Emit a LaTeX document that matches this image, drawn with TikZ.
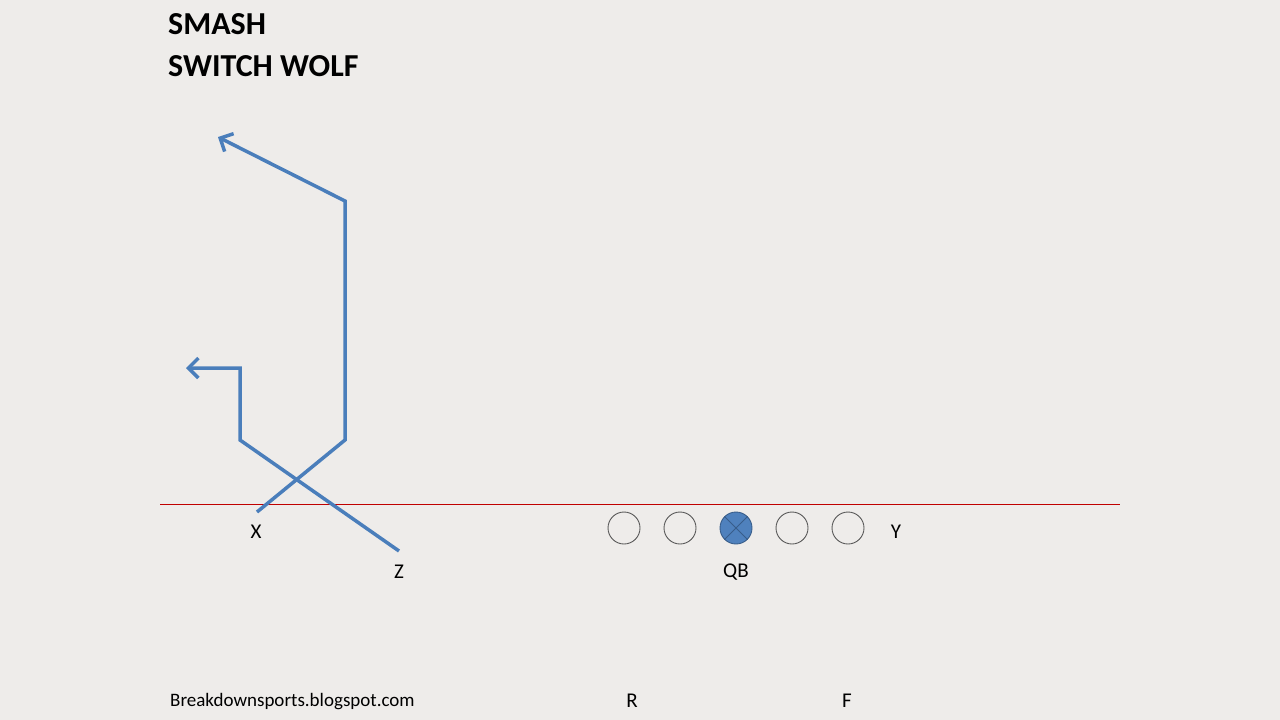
\documentclass[tikz,border=0pt]{standalone}
\usepackage{fontspec}
\setmainfont{Carlito}
\usetikzlibrary{arrows.meta}
\definecolor{bg}{RGB}{238,236,234}
\definecolor{route}{RGB}{74,126,187}
\definecolor{los}{RGB}{192,0,0}
\definecolor{qbfill}{RGB}{79,129,189}
\definecolor{qbline}{RGB}{56,93,138}
\tikzset{
  player/.style={circle,draw=black!65,line width=0.9pt,minimum size=32pt,inner sep=0pt},
  qbplayer/.style={player,fill=qbfill,draw=qbline},
  lbl/.style={font=\fontsize{21}{25}\selectfont,inner sep=0pt},
  titlelbl/.style={font=\fontsize{32}{36}\selectfont\bfseries,inner sep=0pt,anchor=west},
  routeline/.style={draw=route,line width=3.5pt,line join=miter},
  arrowed/.style={routeline,-{Straight Barb[length=10pt,width=20pt,line width=3.5pt]}}
}
\begin{document}
\begin{tikzpicture}[x=1pt,y=-1pt]
\fill[bg] (0,0) rectangle (1280,720);
\useasboundingbox (0,0) rectangle (1280,720);
% titles
\node[titlelbl] (t1) at (168,24) {SMASH};
\node[titlelbl] (t2) at (168,66) {SWITCH WOLF};
% line of scrimmage
\coordinate (losL) at (160,504);
\coordinate (losR) at (1120,504);
\draw[los,line width=1pt] (losL) -- (losR);
% linemen
\node[player] (lt) at (624,528) {};
\node[player] (lg) at (680,528) {};
\node[qbplayer] (c) at (736,528) {};
\draw[qbline,line width=0.8pt] (c.north west) -- (c.south east) (c.north east) -- (c.south west);
\node[player] (rg) at (792,528) {};
\node[player] (rt) at (848,528) {};
% labels
\node[lbl] (x) at (256,532) {X};
\node[lbl] (z) at (399,572) {Z};
\node[lbl] (qb) at (736,572) {QB};
\node[lbl] (y) at (896,532) {Y};
\node[lbl] (r) at (632,701) {R};
\node[lbl] (f) at (847,701) {F};
\node[font=\fontsize{19}{23}\selectfont,inner sep=0pt,anchor=west] (src) at (170,702) {Breakdownsports.blogspot.com};
% routes
\coordinate (xs) at (257,512);
\coordinate (x1) at (345,440);
\coordinate (x2) at (345,201);
\coordinate (xe) at (218,137);
\draw[arrowed] (xs) -- (x1) -- (x2) -- (xe);
\coordinate (zs) at (399,551);
\coordinate (z1) at (240,440);
\coordinate (z2) at (240,368);
\coordinate (ze) at (186,368);
\draw[arrowed] (zs) -- (z1) -- (z2) -- (ze);
\end{tikzpicture}
\end{document}
